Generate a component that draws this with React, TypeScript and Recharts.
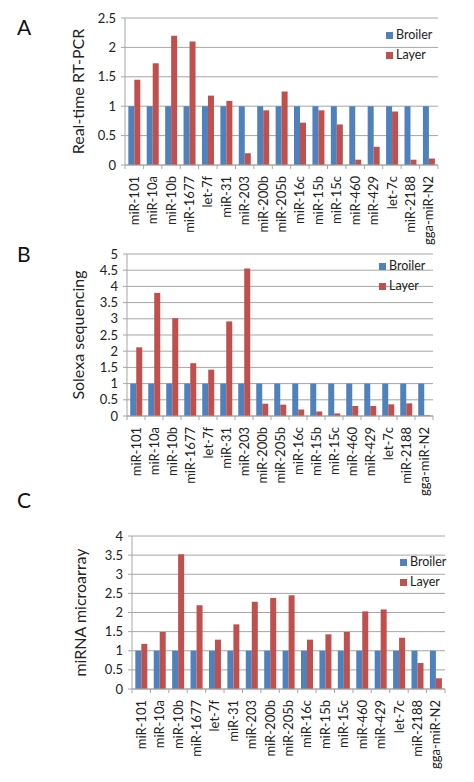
import * as React from "react";
import { BarChart, Bar, XAxis, YAxis, CartesianGrid } from "recharts";

const mirnas = [
  "miR-101", "miR-10a", "miR-10b", "miR-1677", "let-7f", "miR-31", "miR-203",
  "miR-200b", "miR-205b", "miR-16c", "miR-15b", "miR-15c", "miR-460", "miR-429",
  "let-7c", "miR-2188", "gga-miR-N2",
];

const broiler = [1, 1, 1, 1, 1, 1, 1, 1, 1, 1, 1, 1, 1, 1, 1, 1, 1];

const layerPcr = [1.45, 1.73, 2.2, 2.1, 1.18, 1.09, 0.2, 0.93, 1.25, 0.72, 0.93, 0.69, 0.09, 0.31, 0.91, 0.09, 0.11];
const layerSolexa = [2.12, 3.8, 3.02, 1.63, 1.43, 2.92, 4.55, 0.38, 0.35, 0.2, 0.14, 0.08, 0.31, 0.31, 0.36, 0.39, 0.02];
const layerArray = [1.18, 1.49, 3.52, 2.19, 1.29, 1.69, 2.28, 2.38, 2.45, 1.29, 1.43, 1.49, 2.03, 2.08, 1.34, 0.68, 0.28];

const ticksPcr = [0, 0.5, 1, 1.5, 2, 2.5];
const ticksSolexa = [0, 0.5, 1, 1.5, 2, 2.5, 3, 3.5, 4, 4.5, 5];
const ticksArray = [0, 0.5, 1, 1.5, 2, 2.5, 3, 3.5, 4];

const BLUE = "#4F81BD";
const RED = "#C0504D";
const GRID = "#A6A6A6";
const FONT = "Lato, 'Open Sans', sans-serif";

const rows = (layer: number[]) =>
  mirnas.map((name, i) => ({ name, Broiler: broiler[i], Layer: layer[i] }));

function CategoryTick(props: any) {
  const { x, y, payload, index, band, count } = props;
  return (
    <g>
      <line x1={x - band / 2} y1={y} x2={x - band / 2} y2={y + 4} stroke={GRID} />
      {index === count - 1 && (
        <line x1={x + band / 2} y1={y} x2={x + band / 2} y2={y + 4} stroke={GRID} />
      )}
      <text
        x={x}
        y={y + 11}
        transform={`rotate(-90 ${x} ${y + 11})`}
        textAnchor="end"
        dy="0.35em"
        fontSize={13}
        fontFamily={FONT}
        fill="#222"
      >
        {payload.value}
      </text>
    </g>
  );
}

function LegendBox({ left, top }: { left: number; top: number }) {
  const item = (label: string, color: string) => (
    <div style={{ display: "flex", alignItems: "center", height: 20 }}>
      <span style={{ width: 7, height: 7, background: color, marginRight: 3 }} />
      <span>{label}</span>
    </div>
  );
  return (
    <div
      style={{
        position: "absolute",
        left,
        top: top - 10,
        fontFamily: FONT,
        fontSize: 12.5,
        color: "#222",
        lineHeight: "20px",
      }}
    >
      {item("Broiler", BLUE)}
      {item("Layer", RED)}
    </div>
  );
}

type PanelProps = {
  letter: string;
  title: string;
  layer: number[];
  ticks: number[];
  top: number;
  height: number;
  plotLeft: number;
  plotRight: number;
  titleX: number;
  legendLeft: number;
  legendTop: number;
  letterTop: number;
};

function Panel(p: PanelProps) {
  const width = 474;
  const yAxisWidth = 40;
  const plotWidth = p.plotRight - p.plotLeft;
  const band = plotWidth / mirnas.length;
  const max = p.ticks[p.ticks.length - 1];
  return (
    <div style={{ position: "absolute", left: 0, top: p.top, width, height: p.height }}>
      <div
        style={{
          position: "absolute",
          left: 17,
          top: p.letterTop,
          fontFamily: FONT,
          fontSize: 21,
          color: "#111",
        }}
      >
        {p.letter}
      </div>
      <BarChart
        width={width}
        height={p.height}
        data={rows(p.layer)}
        margin={{ top: 18, right: width - p.plotRight, left: p.plotLeft - yAxisWidth, bottom: 0 }}
        barCategoryGap="18%"
        barGap={0}
      >
        <CartesianGrid vertical={false} stroke={GRID} />
        <XAxis
          dataKey="name"
          interval={0}
          height={80}
          tickSize={0}
          tickMargin={0}
          tickLine={false}
          axisLine={{ stroke: GRID }}
          tick={<CategoryTick band={band} count={mirnas.length} />}
        />
        <YAxis
          width={yAxisWidth}
          domain={[0, max]}
          ticks={p.ticks}
          interval={0}
          tickSize={4}
          tickMargin={5}
          tickLine={{ stroke: GRID }}
          axisLine={{ stroke: GRID }}
          tick={{ fontSize: 13, fontFamily: FONT, fill: "#222" }}
          tickFormatter={(v: number) => String(v)}
          label={{
            content: ({ viewBox }: any) => {
              const cx = p.titleX;
              const cy = viewBox.y + viewBox.height / 2;
              return (
                <text
                  x={cx}
                  y={cy}
                  transform={`rotate(-90 ${cx} ${cy})`}
                  textAnchor="middle"
                  dy="0.35em"
                  fontSize={16}
                  fontFamily={FONT}
                  fill="#222"
                >
                  {p.title}
                </text>
              );
            },
          }}
        />
        <Bar dataKey="Broiler" fill={BLUE} isAnimationActive={false} />
        <Bar dataKey="Layer" fill={RED} isAnimationActive={false} />
      </BarChart>
      <LegendBox left={p.legendLeft} top={p.legendTop} />
    </div>
  );
}

export default function App() {
  return (
    <div style={{ position: "absolute", left: 0, top: 0, width: 474, height: 782, background: "#fff" }}>
      <Panel
        letter="A"
        title="Real-time RT-PCR"
        layer={layerPcr}
        ticks={ticksPcr}
        top={0}
        height={245}
        plotLeft={125}
        plotRight={438}
        titleX={78}
        legendLeft={386}
        legendTop={35}
        letterTop={14}
      />
      <Panel
        letter="B"
        title="Solexa sequencing"
        layer={layerSolexa}
        ticks={ticksSolexa}
        top={236}
        height={260}
        plotLeft={127}
        plotRight={433}
        titleX={78}
        legendLeft={379}
        legendTop={30}
        letterTop={5}
      />
      <Panel
        letter="C"
        title="miRNA microarray"
        layer={layerArray}
        ticks={ticksArray}
        top={518}
        height={251}
        plotLeft={132}
        plotRight={445}
        titleX={80}
        legendLeft={400}
        legendTop={44}
        letterTop={-31}
      />
    </div>
  );
}
